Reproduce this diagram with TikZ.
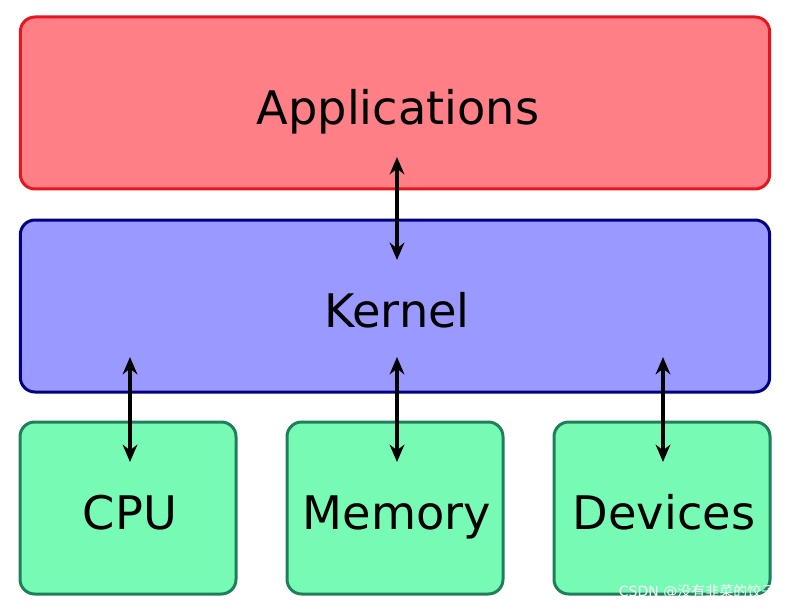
\documentclass[tikz,border=0pt]{standalone}
\usepackage{fontspec}
\setmainfont{DejaVu Sans}
\newfontfamily\cjk{Noto Sans CJK SC}
\usetikzlibrary{arrows.meta}
\definecolor{appfill}{HTML}{FF7F86}
\definecolor{appline}{HTML}{E8141E}
\definecolor{kerfill}{HTML}{9999FF}
\definecolor{kerline}{HTML}{000080}
\definecolor{hwfill}{HTML}{77FBB4}
\definecolor{hwline}{HTML}{1F7F5A}
\begin{document}
\begin{tikzpicture}[x=0.75pt,y=-0.75pt,
  box/.style={draw,line width=2.25pt,rounded corners=11pt,inner sep=0pt},
  lbl/.style={anchor=base,inner sep=0pt,font=\fontsize{34.7}{40}\selectfont},
  link/.style={line width=3pt,{Stealth[length=13pt,width=11pt]}-{Stealth[length=13pt,width=11pt]}}]
\useasboundingbox (0,0) rectangle (785,606);
\node[box,fill=appfill,draw=appline,minimum width=562pt,minimum height=129pt] (app) at (395,103) {};
\node[lbl] (appt) at (398,125) {Applications};
\node[box,fill=kerfill,draw=kerline,minimum width=562pt,minimum height=129pt] (ker) at (395,306) {};
\node[lbl] (kert) at (397,327) {Kernel};
\foreach \n/\x/\t in {cpu/128/CPU,mem/395/Memory,dev/662/Devices}{
  \node[box,fill=hwfill,draw=hwline,minimum width=162pt,minimum height=129pt] (\n) at (\x,508) {};
  \node[lbl] (\n t) at (\x+2,529) {\t};
}
\coordinate (a1) at (397,157); \coordinate (a2) at (397,260);
\draw[link] (a1) -- (a2);
\foreach \x/\n in {130/c,397/m,663/d}{
  \coordinate (\n1) at (\x,357); \coordinate (\n2) at (\x,462);
  \draw[link] (\n1) -- (\n2);
}
\node[anchor=east,text=white,font=\fontsize{10.5}{12}\selectfont] (wm) at (780,592) {CSDN @{\cjk 没有韭菜的饺子}};
\end{tikzpicture}
\end{document}
